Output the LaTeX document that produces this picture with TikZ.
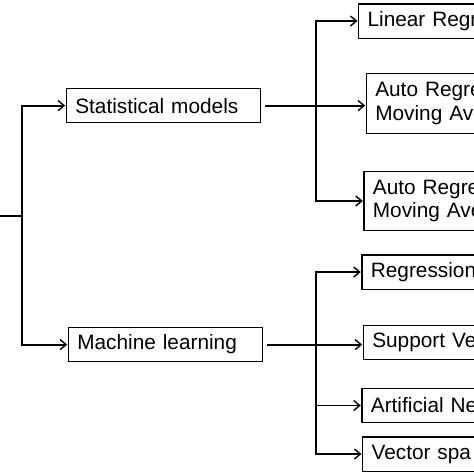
\documentclass[tikz,border=0pt]{standalone}
\usepackage{fontspec}
\setmainfont{Liberation Sans}
\usetikzlibrary{arrows.meta}
\begin{document}
\begin{tikzpicture}[x=1pt,y=-1pt,
  box/.style={draw=black,line width=1.2pt,rectangle,inner xsep=9pt,inner ysep=0pt,
    align=left,font=\fontsize{20.8}{23.5}\selectfont,anchor=west},
  leftbox/.style={box,text width=176pt,minimum height=34.4pt},
  rbox/.style={box,text width=200pt,minimum height=34.2pt},
  rbox2/.style={box,text width=200pt,minimum height=59.5pt},
  conn/.style={line width=1.8pt,line join=miter},
  arr/.style={conn,-{Straight Barb[length=6pt,width=10pt,line width=1.4pt]},shorten >=0.5pt}]
\clip (0,0) rectangle (474,474);
\fill[white] (0,0) rectangle (474,474);
% category boxes
\node[leftbox] (stat) at (65.7,105.6) {Statistical models};
\node[leftbox] (ml) at (67.7,344.6) {Machine learning};
% method boxes
\node[rbox] (lin) at (358,21) {Linear Regr};
\node[rbox2] (arma1) at (365.7,103.5) {Auto Regre\\Moving Ave};
\node[rbox2] (arma2) at (363.3,201) {Auto Regre\\Moving Ave};
\node[rbox] (reg) at (361.3,272) {Regression};
\node[rbox] (svm) at (362.7,342.5) {Support Ve};
\node[rbox] (ann) at (361.3,405.5) {Artificial Ne};
\node[rbox] (vec) at (362,454) {Vector spa};
% junctions
\coordinate (root) at (-2,216);
\coordinate (j0) at (21.7,216);
\coordinate (j1) at (316,105.6);
\coordinate (j2) at (316,344.6);
% connectors
\draw[conn] (root) -- (j0);
\draw[arr] (j0) |- (stat.west);
\draw[arr] (j0) |- (ml.west);
\draw[arr] ([xshift=4pt]stat.east) -- (stat.east -| arma1.west);
\draw[arr] (j1) |- (lin.west);
\draw[arr] (j1) |- (arma2.west);
\draw[arr] ([xshift=4pt]ml.east) -- (ml.east -| svm.west);
\draw[arr] (j2) |- (reg.west);
\draw[arr] (j2) |- (ann.west);
\draw[arr] (j2) |- (vec.west);
\end{tikzpicture}
\end{document}
